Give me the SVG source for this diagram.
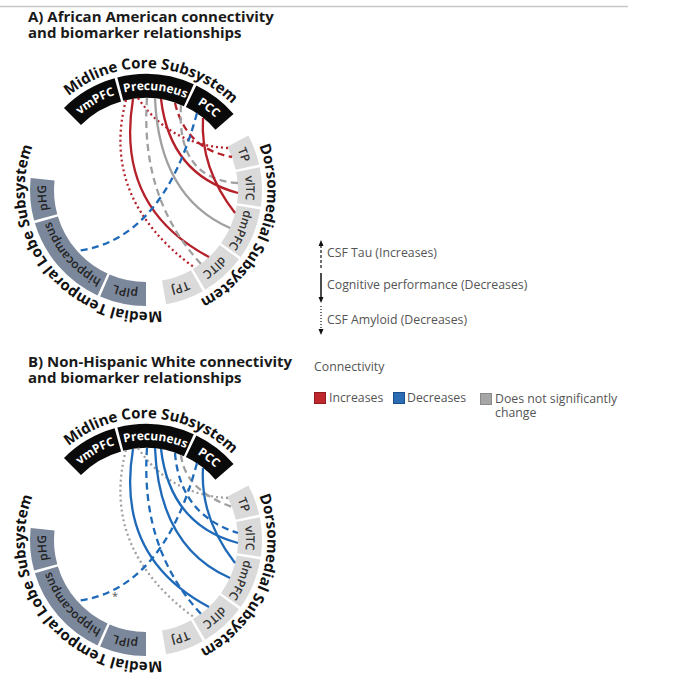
<svg xmlns="http://www.w3.org/2000/svg" width="680" height="684" viewBox="0 0 680 684">
<style>
.title{font-family:"Open Sans","Liberation Sans",sans-serif;font-weight:700;font-size:15px;fill:#1a1a1a}
.sub{font-family:"Open Sans","Liberation Sans",sans-serif;font-weight:700;font-size:15px;fill:#111}
.core{fill:#0a0a0a}
.dm{fill:#dadada}
.mtl{fill:#7b879a}
.lw{font-family:"Open Sans","Liberation Sans",sans-serif;font-weight:700;font-size:12px;fill:#fff}
.ld{font-family:"Open Sans","Liberation Sans",sans-serif;font-weight:600;font-size:12px;fill:#333}
.lm{font-family:"Open Sans","Liberation Sans",sans-serif;font-weight:600;font-size:12px;fill:#222}
.c{fill:none;stroke-width:2.3}
.red{stroke:#b5212a}
.blue{stroke:#1f6ab8}
.gray{stroke:#a0a0a0}
.dash{stroke-dasharray:7 4.5}
.dot{stroke-dasharray:2 3}
.leg{font-family:"Open Sans","Liberation Sans",sans-serif;font-size:12.3px;fill:#555}
</style>
<defs>
<path id="r100" d="M146,290 A100,100 0 0 1 146,90 A100,100 0 0 1 146,290"/>
<path id="r122" d="M177.58,307.84 A122,122 0 0 1 114.42,72.16 A122,122 0 0 1 177.58,307.84"/>
</defs>
<line x1="0" y1="6.5" x2="628" y2="6.5" stroke="#c8c8c8" stroke-width="1.5"/>

<g id="panelA">
<text class="title" x="28" y="22">A) African American connectivity</text>
<text class="title" x="28" y="38">and biomarker relationships</text>
<text class="sub" text-anchor="middle"><textPath href="#r122" startOffset="419.5">Midline Core Subsystem</textPath></text>
<text class="sub" text-anchor="middle"><textPath href="#r122" startOffset="649.4">Dorsomedial Subsystem</textPath></text>
<text class="sub" text-anchor="middle"><textPath href="#r122" startOffset="141.6">Medial Temporal Lobe Subsystem</textPath></text>
<g id="a-vmPFC"><path class="core" d="M63.98,107.98 A116,116 0 0 1 114.61,78.33 L121.10,101.43 A92,92 0 0 0 80.95,124.95 Z"/><text class="lw" text-anchor="middle"><textPath href="#r100" startOffset="261.8">vmPFC</textPath></text></g>
<g id="a-Precuneus"><path class="core" d="M117.35,77.60 A116,116 0 0 1 193.73,84.28 L183.86,106.15 A92,92 0 0 0 123.28,100.85 Z"/><text class="lw" text-anchor="middle"><textPath href="#r100" startOffset="322.9">Precuneus</textPath></text></g>
<g id="a-PCC"><path class="core" d="M196.31,85.47 A116,116 0 0 1 233.55,113.89 L215.43,129.64 A92,92 0 0 0 185.90,107.10 Z"/><text class="lw" text-anchor="middle"><textPath href="#r100" startOffset="378.7">PCC</textPath></text></g>
<g id="a-TP"><path class="dm" d="M248.42,135.54 A116,116 0 0 1 259.16,164.50 L235.75,169.78 A92,92 0 0 0 227.23,146.81 Z"/><text class="ld" text-anchor="middle"><textPath href="#r100" startOffset="435.8">TP</textPath></text></g>
<g id="a-vlTC"><path class="dm" d="M259.75,167.28 A116,116 0 0 1 260.78,206.75 L237.03,203.28 A92,92 0 0 0 236.22,171.98 Z"/><text class="ld" text-anchor="middle"><textPath href="#r100" startOffset="468.6">vlTC</textPath></text></g>
<g id="a-dmPFC"><path class="dm" d="M260.34,209.55 A116,116 0 0 1 240.67,257.04 L221.08,243.17 A92,92 0 0 0 236.68,205.50 Z"/><text class="ld" text-anchor="middle"><textPath href="#r100" startOffset="510.5">dmPFC</textPath></text></g>
<g id="a-dlTC"><path class="dm" d="M239.01,259.32 A116,116 0 0 1 205.22,289.75 L192.97,269.11 A92,92 0 0 0 219.77,244.98 Z"/><text class="ld" text-anchor="middle"><textPath href="#r100" startOffset="555.0">dlTC</textPath></text></g>
<g id="a-TPJ"><path class="dm" d="M202.77,291.16 A116,116 0 0 1 166.14,304.24 L161.97,280.60 A92,92 0 0 0 191.02,270.23 Z"/><text class="ld" text-anchor="middle"><textPath href="#r100" startOffset="593.4">TPJ</textPath></text></g>
<g id="a-pIPL"><path class="mtl" d="M146,306 A116,116 0 0 1 100.12,296.53 L109.61,274.49 A92,92 0 0 0 146,282 Z"/><text class="lm" text-anchor="middle"><textPath href="#r100" startOffset="20.4">pIPL</textPath></text></g>
<g id="a-hippocampus"><path class="mtl" d="M97.52,295.39 A116,116 0 0 1 34.90,223.34 L57.88,216.44 A92,92 0 0 0 107.55,273.58 Z"/><text class="lm" text-anchor="middle"><textPath href="#r100" startOffset="85.5">hippocampus</textPath></text></g>
<g id="a-pHG"><path class="mtl" d="M34.11,220.61 A116,116 0 0 1 30.64,177.88 L54.51,180.39 A92,92 0 0 0 57.26,214.28 Z"/><text class="lm" text-anchor="middle"><textPath href="#r100" startOffset="149.1">pHG</textPath></text></g>
<g id="a-connectors">
<path class="c red dot" d="M126,100 Q100,199 195,268"/>
<path class="c red" d="M133,99 Q115,207 209,257"/>
<path class="c red dot" d="M138,98 Q170,145 228,148"/>
<path class="c gray dash" d="M147,98 Q140,198 201,264"/>
<path class="c gray" d="M155,98 Q159,197 230,228"/>
<path class="c red" d="M161,99 Q170,175 238,193"/>
<path class="c red dash" d="M175,103 Q186,149 232,157"/>
<path class="c gray dash" d="M181,105 Q176,179 238,183"/>
<path class="c blue dash" d="M197,113 Q163,240 77,251"/>
<path class="c red" d="M203,118 Q200,168 235,213"/>
</g>
</g>

<g id="panelB">
<text class="title" x="28" y="367">B) Non-Hispanic White connectivity</text>
<text class="title" x="28" y="383">and biomarker relationships</text>
<g transform="translate(0,350)">
<text class="sub" text-anchor="middle"><textPath href="#r122" startOffset="419.5">Midline Core Subsystem</textPath></text>
<text class="sub" text-anchor="middle"><textPath href="#r122" startOffset="649.4">Dorsomedial Subsystem</textPath></text>
<text class="sub" text-anchor="middle"><textPath href="#r122" startOffset="141.6">Medial Temporal Lobe Subsystem</textPath></text>
<g id="b-vmPFC"><path class="core" d="M63.98,107.98 A116,116 0 0 1 114.61,78.33 L121.10,101.43 A92,92 0 0 0 80.95,124.95 Z"/><text class="lw" text-anchor="middle"><textPath href="#r100" startOffset="261.8">vmPFC</textPath></text></g>
<g id="b-Precuneus"><path class="core" d="M117.35,77.60 A116,116 0 0 1 193.73,84.28 L183.86,106.15 A92,92 0 0 0 123.28,100.85 Z"/><text class="lw" text-anchor="middle"><textPath href="#r100" startOffset="322.9">Precuneus</textPath></text></g>
<g id="b-PCC"><path class="core" d="M196.31,85.47 A116,116 0 0 1 233.55,113.89 L215.43,129.64 A92,92 0 0 0 185.90,107.10 Z"/><text class="lw" text-anchor="middle"><textPath href="#r100" startOffset="378.7">PCC</textPath></text></g>
<g id="b-TP"><path class="dm" d="M248.42,135.54 A116,116 0 0 1 259.16,164.50 L235.75,169.78 A92,92 0 0 0 227.23,146.81 Z"/><text class="ld" text-anchor="middle"><textPath href="#r100" startOffset="435.8">TP</textPath></text></g>
<g id="b-vlTC"><path class="dm" d="M259.75,167.28 A116,116 0 0 1 260.78,206.75 L237.03,203.28 A92,92 0 0 0 236.22,171.98 Z"/><text class="ld" text-anchor="middle"><textPath href="#r100" startOffset="468.6">vlTC</textPath></text></g>
<g id="b-dmPFC"><path class="dm" d="M260.34,209.55 A116,116 0 0 1 240.67,257.04 L221.08,243.17 A92,92 0 0 0 236.68,205.50 Z"/><text class="ld" text-anchor="middle"><textPath href="#r100" startOffset="510.5">dmPFC</textPath></text></g>
<g id="b-dlTC"><path class="dm" d="M239.01,259.32 A116,116 0 0 1 205.22,289.75 L192.97,269.11 A92,92 0 0 0 219.77,244.98 Z"/><text class="ld" text-anchor="middle"><textPath href="#r100" startOffset="555.0">dlTC</textPath></text></g>
<g id="b-TPJ"><path class="dm" d="M202.77,291.16 A116,116 0 0 1 166.14,304.24 L161.97,280.60 A92,92 0 0 0 191.02,270.23 Z"/><text class="ld" text-anchor="middle"><textPath href="#r100" startOffset="593.4">TPJ</textPath></text></g>
<g id="b-pIPL"><path class="mtl" d="M146,306 A116,116 0 0 1 100.12,296.53 L109.61,274.49 A92,92 0 0 0 146,282 Z"/><text class="lm" text-anchor="middle"><textPath href="#r100" startOffset="20.4">pIPL</textPath></text></g>
<g id="b-hippocampus"><path class="mtl" d="M97.52,295.39 A116,116 0 0 1 34.90,223.34 L57.88,216.44 A92,92 0 0 0 107.55,273.58 Z"/><text class="lm" text-anchor="middle"><textPath href="#r100" startOffset="85.5">hippocampus</textPath></text></g>
<g id="b-pHG"><path class="mtl" d="M34.11,220.61 A116,116 0 0 1 30.64,177.88 L54.51,180.39 A92,92 0 0 0 57.26,214.28 Z"/><text class="lm" text-anchor="middle"><textPath href="#r100" startOffset="149.1">pHG</textPath></text></g>
<g id="b-connectors">
<path class="c gray dot" d="M126,100 Q100,199 195,268"/>
<path class="c blue" d="M133,99 Q115,207 209,257"/>
<path class="c gray dot" d="M138,98 Q170,145 228,148"/>
<path class="c blue dash" d="M147,98 Q140,198 201,264"/>
<path class="c blue" d="M155,98 Q159,197 230,228"/>
<path class="c blue" d="M161,99 Q170,175 238,193"/>
<path class="c blue dash" d="M175,103 Q180,165 238,183"/>
<path class="c gray dash" d="M181,105 Q185,140 232,157"/>
<path class="c blue dash" d="M197,113 Q163,240 77,251"/>
<path class="c blue" d="M203,118 Q200,168 235,213"/>
</g>
<text x="112" y="250" font-family="Open Sans, sans-serif" font-size="11" fill="#555">*</text>
</g>
</g>

<g id="legend">
<line x1="321" y1="245" x2="321" y2="268" stroke="#111" stroke-width="1.2" stroke-dasharray="3 2"/>
<polygon points="321,240 318.5,246 323.5,246" fill="#111"/>
<text class="leg" x="327" y="257">CSF Tau (Increases)</text>
<line x1="321" y1="273" x2="321" y2="298" stroke="#111" stroke-width="1.5"/>
<polygon points="321,303 318.5,297 323.5,297" fill="#111"/>
<text class="leg" x="327" y="289">Cognitive performance (Decreases)</text>
<line x1="321" y1="306" x2="321" y2="330" stroke="#111" stroke-width="1.2" stroke-dasharray="1 2"/>
<polygon points="321,335 318.5,329 323.5,329" fill="#111"/>
<text class="leg" x="327" y="324">CSF Amyloid (Decreases)</text>
<text class="leg" x="314" y="371" font-size="12.8">Connectivity</text>
<rect x="314.5" y="392.5" width="11" height="11" fill="#c0272d" stroke="#8e1b1f"/>
<text class="leg" x="329" y="402">Increases</text>
<rect x="393.5" y="392.5" width="11" height="11" fill="#2b6cb5" stroke="#1b4f8a"/>
<text class="leg" x="407" y="402">Decreases</text>
<rect x="480.5" y="393.5" width="11" height="11" fill="#a6a6a6" stroke="#8a8a8a"/>
<text class="leg" x="495" y="403">Does not significantly</text>
<text class="leg" x="495" y="417">change</text>
</g>
</svg>
